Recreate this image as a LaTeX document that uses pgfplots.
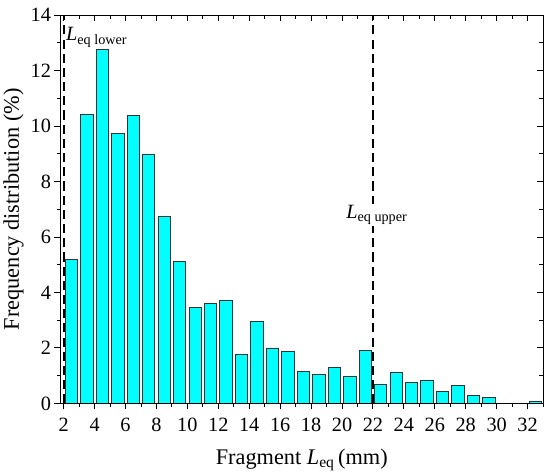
\documentclass[border=0pt]{standalone}
\usepackage{pgfplots}
\pgfplotsset{compat=1.18}
\usepackage{fontspec}
\setmainfont{Liberation Serif}
\definecolor{barcyan}{RGB}{0,255,255}
\pgfplotstableread{
x y
2.5 5.20
3.5 10.41
4.5 12.78
5.5 9.72
6.5 10.38
7.5 8.98
8.5 6.75
9.5 5.11
10.5 3.45
11.5 3.62
12.5 3.71
13.5 1.75
14.5 2.96
15.5 2.00
16.5 1.88
17.5 1.16
18.5 1.04
19.5 1.31
20.5 0.97
21.5 1.92
22.5 0.67
23.5 1.13
24.5 0.75
25.5 0.82
26.5 0.42
27.5 0.64
28.5 0.28
29.5 0.20
30.5 0
31.5 0
32.5 0.09
}\datatable
\begin{document}
\begin{tikzpicture}
\pgfplotsset{every axis/.append style={
  scale only axis, width=476pt, height=383pt,
  xmin=1.8, xmax=33, ymin=0, ymax=14,
  xtick={2,4,...,32}, minor xtick={3,5,...,33},
  ytick={0,2,...,14}, minor ytick={1,3,...,13},
  /pgf/number format/assume math mode=true,
  tick style={black, line width=0.9pt},
  major tick length=6pt, minor tick length=3.5pt,
  axis line style={line width=1pt},
}}
\begin{axis}[
  xtick pos=bottom, ytick pos=left, tick align=outside,
  ticklabel style={font=\fontsize{20}{22}\selectfont},
  xticklabel style={yshift=-5pt},
  xlabel={\fontsize{22}{26}\selectfont Fragment \textit{L}\textsubscript{eq}\,(mm)},
  ylabel={\fontsize{22}{26}\selectfont Frequency distribution (\%)},
  xlabel style={yshift=-10pt},
  ylabel style={yshift=0pt},
  clip=false,
]
\addplot[ybar, bar width=0.8, fill=barcyan, draw=black!80, line width=0.8pt] table[x=x,y=y] {\datatable};
\addplot[black, line width=2.2pt, dash pattern=on 9pt off 5pt] coordinates {(2,0) (2,14)};
\addplot[black, line width=2.2pt, dash pattern=on 9pt off 5pt] coordinates {(22,0) (22,14)};
\node[anchor=west, fill=white, inner sep=1pt, font=\fontsize{20}{22}\selectfont] at (axis cs:2.08,13.2) {\textit{L}\textsubscript{eq lower}};
\node[fill=white, inner sep=1pt, font=\fontsize{20}{22}\selectfont] at (axis cs:22.25,6.8) {\textit{L}\textsubscript{eq upper}};
\path (rel axis cs:0,1) ++(0,15pt) coordinate (topext);
\path (topext) -- ++(1pt,0);
\end{axis}
\begin{axis}[
  xtick pos=top, ytick pos=right, tick align=inside,
  xticklabels={}, yticklabels={},
]
\end{axis}
\end{tikzpicture}
\end{document}
